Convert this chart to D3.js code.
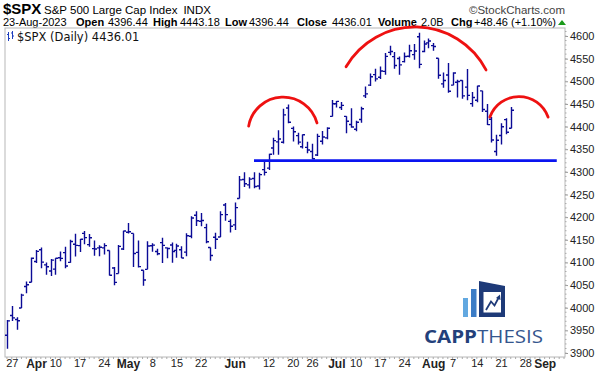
<!DOCTYPE html>
<html>
<head>
<meta charset="utf-8">
<script src="https://cdn.jsdelivr.net/npm/d3@7"></script>
<style>
  body { margin: 0; background: #fff; }
  svg { display: block; font-family: "Liberation Sans", Arial, sans-serif; }
</style>
</head>
<body>
<svg id="chart" width="597" height="372"></svg>
<script>
// trading days (2023), $SPX daily bars
const dates = [
  "03-24","03-27","03-28","03-29","03-30","03-31",
  "04-03","04-04","04-05","04-06","04-10","04-11","04-12","04-13","04-14",
  "04-17","04-18","04-19","04-20","04-21","04-24","04-25","04-26","04-27","04-28",
  "05-01","05-02","05-03","05-04","05-05","05-08","05-09","05-10","05-11","05-12",
  "05-15","05-16","05-17","05-18","05-19","05-22","05-23","05-24","05-25","05-26",
  "05-30","05-31","06-01","06-02","06-05","06-06","06-07","06-08","06-09",
  "06-12","06-13","06-14","06-15","06-16","06-20","06-21","06-22","06-23",
  "06-26","06-27","06-28","06-29","06-30","07-03","07-05","07-06","07-07",
  "07-10","07-11","07-12","07-13","07-14","07-17","07-18","07-19","07-20","07-21",
  "07-24","07-25","07-26","07-27","07-28","07-31","08-01","08-02","08-03","08-04",
  "08-07","08-08","08-09","08-10","08-11","08-14","08-15","08-16","08-17","08-18",
  "08-21","08-22","08-23"
];
// empty slots to the right of the last bar
const futureDates = ["08-24","08-25","08-28","08-29","08-30","08-31","09-01","09-05","09-06","09-07","09-08"];

const opens = [
  3939.21,3982.93,3974.13,3999.53,4046.74,4056.18,
  4102.20,4128.03,4094.50,4081.15,4085.20,4110.29,4121.72,4100.04,4140.11,
  4137.17,4164.26,4139.33,4130.48,4132.14,4132.07,4126.43,4087.78,4075.29,4129.63,
  4166.79,4164.10,4122.25,4082.61,4084.73,4136.98,4124.25,4143.74,4132.24,4138.54,
  4126.65,4127.95,4122.85,4157.68,4204.15,4190.78,4176.80,4132.96,4155.71,4156.16,
  4226.71,4190.74,4183.03,4241.01,4282.99,4271.34,4285.47,4268.69,4304.88,
  4308.32,4352.61,4366.29,4365.33,4440.95,4396.11,4380.01,4355.40,4354.17,
  4344.84,4337.36,4367.48,4374.94,4422.44,4450.48,4442.04,4422.62,4404.54,
  4394.23,4415.55,4467.69,4491.50,4514.61,4508.86,4521.78,4563.87,4554.38,4550.16,
  4543.39,4555.19,4558.96,4598.26,4565.75,4584.82,4578.83,4550.93,4494.27,4513.96,
  4491.58,4498.03,4501.57,4487.16,4450.69,4458.13,4478.87,4433.79,4416.32,4344.88,
  4380.28,4415.33,4396.44
];
const highs = [
  3972.74,4003.83,3979.20,4030.59,4057.85,4110.75,
  4127.66,4133.13,4099.69,4107.32,4109.50,4124.26,4134.37,4150.26,4163.19,
  4151.72,4169.48,4162.57,4148.57,4138.02,4142.41,4126.43,4089.67,4138.24,4170.06,
  4186.92,4164.10,4148.30,4082.61,4147.02,4142.30,4130.35,4154.28,4132.80,4143.74,
  4141.25,4135.54,4164.67,4202.20,4212.91,4209.22,4185.68,4132.96,4165.74,4212.87,
  4231.10,4195.44,4232.43,4290.67,4299.28,4288.33,4299.19,4298.01,4322.62,
  4340.13,4375.37,4391.82,4439.20,4448.47,4400.15,4386.22,4382.25,4366.55,
  4362.06,4384.42,4390.35,4398.39,4458.48,4456.46,4454.06,4422.62,4440.39,
  4412.60,4443.64,4488.34,4517.38,4527.76,4532.85,4562.30,4578.43,4564.74,4555.00,
  4563.41,4580.62,4582.47,4607.07,4590.16,4594.22,4584.62,4550.93,4519.49,4540.34,
  4519.84,4503.31,4502.44,4527.37,4476.23,4490.33,4478.87,4449.95,4421.17,4381.82,
  4407.55,4418.59,4443.18
];
const lows = [
  3909.16,3970.47,3951.53,3999.53,4032.10,4056.18,
  4098.79,4086.87,4072.56,4069.84,4072.55,4102.61,4086.94,4099.40,4113.20,
  4123.18,4140.36,4134.49,4114.57,4113.86,4117.77,4071.38,4049.35,4075.29,4127.18,
  4164.12,4089.72,4088.86,4048.28,4084.73,4123.81,4116.07,4098.92,4109.29,4099.12,
  4110.27,4109.86,4113.62,4153.50,4180.20,4179.68,4142.54,4103.98,4129.73,4156.16,
  4192.18,4166.15,4171.64,4241.01,4266.82,4263.09,4263.96,4261.07,4291.70,
  4304.37,4337.85,4337.85,4362.60,4407.44,4367.19,4360.14,4351.82,4341.34,
  4328.08,4335.00,4360.22,4371.97,4422.44,4442.29,4436.61,4385.05,4397.40,
  4389.92,4408.46,4463.23,4489.36,4499.56,4504.90,4514.59,4557.48,4527.56,4514.48,
  4541.29,4552.42,4547.58,4528.56,4564.01,4573.14,4567.53,4505.75,4485.54,4474.55,
  4491.15,4464.39,4461.33,4457.92,4443.98,4453.44,4432.19,4403.55,4364.83,4335.31,
  4360.30,4382.77,4396.44
];
const closes = [
  3970.99,3977.53,3971.27,4027.81,4050.83,4109.31,
  4124.51,4100.60,4090.38,4105.02,4109.11,4108.94,4091.95,4146.22,4137.64,
  4151.32,4154.87,4154.52,4129.79,4133.52,4137.04,4071.63,4055.99,4135.35,4169.48,
  4167.87,4119.58,4090.75,4061.22,4136.25,4138.12,4119.17,4137.64,4130.62,4124.08,
  4136.28,4109.90,4158.77,4198.05,4191.98,4192.63,4145.58,4115.24,4151.28,4205.45,
  4205.52,4179.83,4221.02,4282.37,4273.79,4283.85,4267.52,4293.93,4298.86,
  4338.93,4369.01,4372.59,4425.84,4409.59,4388.71,4365.69,4381.89,4348.33,
  4328.82,4378.41,4376.86,4396.44,4450.38,4455.59,4446.82,4411.59,4398.95,
  4409.53,4439.26,4472.16,4510.04,4505.42,4522.79,4554.98,4565.72,4534.87,4536.34,
  4554.64,4567.46,4566.75,4537.41,4582.23,4588.96,4576.73,4513.39,4501.89,4478.03,
  4518.44,4499.38,4467.71,4468.83,4464.05,4489.72,4437.86,4404.33,4370.36,4369.71,
  4399.77,4387.55,4436.01
];

const tickDates = ["03-27","04-03","04-10","04-17","04-24","05-01","05-08","05-15","05-22",
  "06-01","06-12","06-20","06-26","07-03","07-10","07-17","07-24","08-01","08-07","08-14",
  "08-21","08-28","09-01"];
const tickTexts = ["27","Apr","10","17","24","May","8","15","22","Jun","12","20","26",
  "Jul","10","17","24","Aug","7","14","21","28","Sep"];
const monthTexts = ["Apr","May","Jun","Jul","Aug","Sep"];

const priceTicks = [3900,3950,4000,4050,4100,4150,4200,4250,4300,4350,4400,4450,4500,4550,4600];

// hand-drawn annotations, in bar slots and price
const arcs = [
  { i0: 49.9, p0: 4401, im: 57.4, pm: 4465, i1: 64.0, p1: 4408 },
  { i0: 70.0, p0: 4532, im: 84.2, pm: 4620, i1: 98.9, p1: 4525 },
  { i0: 99.7, p0: 4421, im: 106.9, pm: 4465, i1: 111.7, p1: 4421 }
];
const support = { i0: 51, i1: 113.5, price: 4325 };

const svg = d3.select("#chart");
const plotLeft = 5, plotRight = 565, plotTop = 28, plotBottom = 357;

const allDates = dates.concat(futureDates);
const x = d3.scaleLinear().domain([-0.4, allDates.length - 0.8]).range([plotLeft, plotRight]);
const y = d3.scaleLinear().domain([3900, 4600]).range([353, 36]);
const idx = d => allDates.indexOf(d);

const bars = dates.map((d, i) => ({ i, o: opens[i], h: highs[i], l: lows[i], c: closes[i] }));

// header
const head = svg.append("g").attr("fill", "#000");
head.append("text").attr("x", 3).attr("y", 14).attr("font-size", 15).attr("font-weight", "bold").text("$SPX");
const title = head.append("text").attr("x", 44).attr("y", 14).attr("font-size", 11.5);
title.append("tspan").text("S&P 500 Large Cap Index");
title.append("tspan").attr("dx", 6).text("INDX");
head.append("text").attr("x", 565).attr("y", 14).attr("font-size", 11.5).attr("fill", "#444")
  .attr("text-anchor", "end").text("\u00A9StockCharts.com");

const line2 = [
  ["23-Aug-2023", 3, false], ["Open", 76, true], ["4396.44", 108, false],
  ["High", 153, true], ["4443.18", 180, false], ["Low", 225, true], ["4396.44", 249, false],
  ["Close", 297, true], ["4436.01", 332, false], ["Volume", 378, true], ["2.0B", 421, false],
  ["Chg", 451, true], ["+48.46 (+1.10%)", 474, false]
];
head.selectAll(".hd2").data(line2).enter().append("text")
  .attr("class", "hd2")
  .attr("x", d => d[1]).attr("y", 25.5)
  .attr("font-size", 11)
  .attr("font-weight", d => d[2] ? "bold" : "normal")
  .text(d => d[0]);
head.append("path").attr("d", "M558,25 L562,20 L566,25 Z").attr("fill", "#1a9a1a");

// plot frame
svg.append("rect").attr("x", plotLeft).attr("y", plotTop)
  .attr("width", plotRight - plotLeft).attr("height", plotBottom - plotTop)
  .attr("fill", "#fff").attr("stroke", "#b8b8b8");

// legend
const lg = svg.append("g").attr("stroke", "#1f3fbf").attr("stroke-width", 1);
lg.append("path").attr("d", "M8.5,32 V41 M7,34.5 H8.5 M8.5,38.5 H10 M12.5,31 V39 M11,33 H12.5 M12.5,36 H14");
svg.append("text").attr("x", 17).attr("y", 40.5).attr("font-size", 11.5)
  .attr("font-family", "'DejaVu Sans', sans-serif").attr("fill", "#111")
  .text("$SPX (Daily) 4436.01");

// logo
const logo = svg.append("g");
logo.append("rect").attr("x", 463).attr("y", 298).attr("width", 5).attr("height", 19).attr("fill", "#62a8e0");
logo.append("rect").attr("x", 471).attr("y", 289).attr("width", 5.5).attr("height", 28).attr("fill", "#3b7cc6");
logo.append("path").attr("d", "M479,281 L505,286 L505,317 L479,317 Z").attr("fill", "#1e3a78");
logo.append("rect").attr("x", 483.5).attr("y", 292).attr("width", 17.5).attr("height", 20.5).attr("fill", "#fff");
logo.append("path").attr("d", "M486,310 L491,301.5 L494.5,305.5 L499,297")
  .attr("fill", "none").attr("stroke", "#1e3a78").attr("stroke-width", 1.8);
logo.append("path").attr("d", "M500,294.5 L500.5,300 L496,298 Z").attr("fill", "#1e3a78");
const lt = logo.append("text").attr("x", 424).attr("y", 343).attr("font-size", 18.5)
  .attr("font-family", "'Open Sans', 'Noto Sans', sans-serif").attr("textLength", 119).attr("lengthAdjust", "spacingAndGlyphs");
lt.append("tspan").attr("font-weight", "bold").attr("fill", "#23407a").text("CAPP");
lt.append("tspan").attr("fill", "#35568e").text("THESIS");

// y axis on the right
const yAxis = svg.append("g").attr("transform", `translate(${plotRight},0)`)
  .call(d3.axisRight(y).tickValues(priceTicks).tickSize(3).tickPadding(2).tickFormat(d3.format("d")));
yAxis.select(".domain").remove();
yAxis.selectAll("line").attr("stroke", "#999");
yAxis.selectAll("text").attr("font-size", 11).attr("fill", "#222")
  .attr("font-family", "'Liberation Sans', Arial, sans-serif");
svg.append("g").selectAll("line").data(d3.range(3900, 4611, 10)).enter().append("line")
  .attr("x1", plotRight).attr("x2", plotRight + 1.5).attr("y1", d => y(d)).attr("y2", d => y(d))
  .attr("stroke", "#aaa");

// x axis at the bottom
svg.append("g").selectAll("line").data(allDates).enter().append("line")
  .attr("x1", d => x(idx(d))).attr("x2", d => x(idx(d)))
  .attr("y1", plotBottom).attr("y2", plotBottom + 2).attr("stroke", "#aaa");
const tickIdx = tickDates.map(idx);
const xAxis = svg.append("g").attr("transform", `translate(0,${plotBottom})`)
  .call(d3.axisBottom(x).tickValues(tickIdx).tickSize(0).tickPadding(2)
    .tickFormat((d, i) => tickTexts[i]));
xAxis.select(".domain").remove();
const isMonth = d => monthTexts.includes(tickTexts[tickIdx.indexOf(d)]);
xAxis.selectAll("text")
  .attr("fill", "#222")
  .attr("font-family", "'Liberation Sans', Arial, sans-serif")
  .attr("font-weight", d => isMonth(d) ? "bold" : "normal")
  .attr("font-size", d => isMonth(d) ? 12 : 11);

// OHLC bars
const ohlc = svg.append("g").attr("stroke", "#0b0b96").attr("stroke-width", 1.4).attr("fill", "none");
ohlc.selectAll("path").data(bars).enter().append("path")
  .attr("d", d => {
    const cx = Math.round(x(d.i)) + 0.5;
    return `M${cx},${y(d.h)}V${y(d.l)}M${cx - 2.5},${y(d.o)}H${cx}M${cx},${y(d.c)}H${cx + 2.5}`;
  });

// support line
svg.append("line")
  .attr("x1", x(support.i0)).attr("x2", x(support.i1))
  .attr("y1", y(support.price)).attr("y2", y(support.price))
  .attr("stroke", "#0a14f0").attr("stroke-width", 2.8);

// red arcs through three points
function arcPath(a) {
  const ax = x(a.i0), ay = y(a.p0), bx = x(a.im), by = y(a.pm), cx = x(a.i1), cy = y(a.p1);
  const dd = 2 * (ax * (by - cy) + bx * (cy - ay) + cx * (ay - by));
  const ux = ((ax * ax + ay * ay) * (by - cy) + (bx * bx + by * by) * (cy - ay) + (cx * cx + cy * cy) * (ay - by)) / dd;
  const uy = ((ax * ax + ay * ay) * (cx - bx) + (bx * bx + by * by) * (ax - cx) + (cx * cx + cy * cy) * (bx - ax)) / dd;
  const r = Math.hypot(ax - ux, ay - uy);
  const large = uy < by ? 1 : 0;
  return `M${ax},${ay}A${r},${r} 0 ${large} 1 ${cx},${cy}`;
}
svg.append("g").selectAll("path").data(arcs).enter().append("path")
  .attr("d", arcPath)
  .attr("fill", "none").attr("stroke", "#ee1111").attr("stroke-width", 2.8).attr("stroke-linecap", "round");
</script>
</body>
</html>
